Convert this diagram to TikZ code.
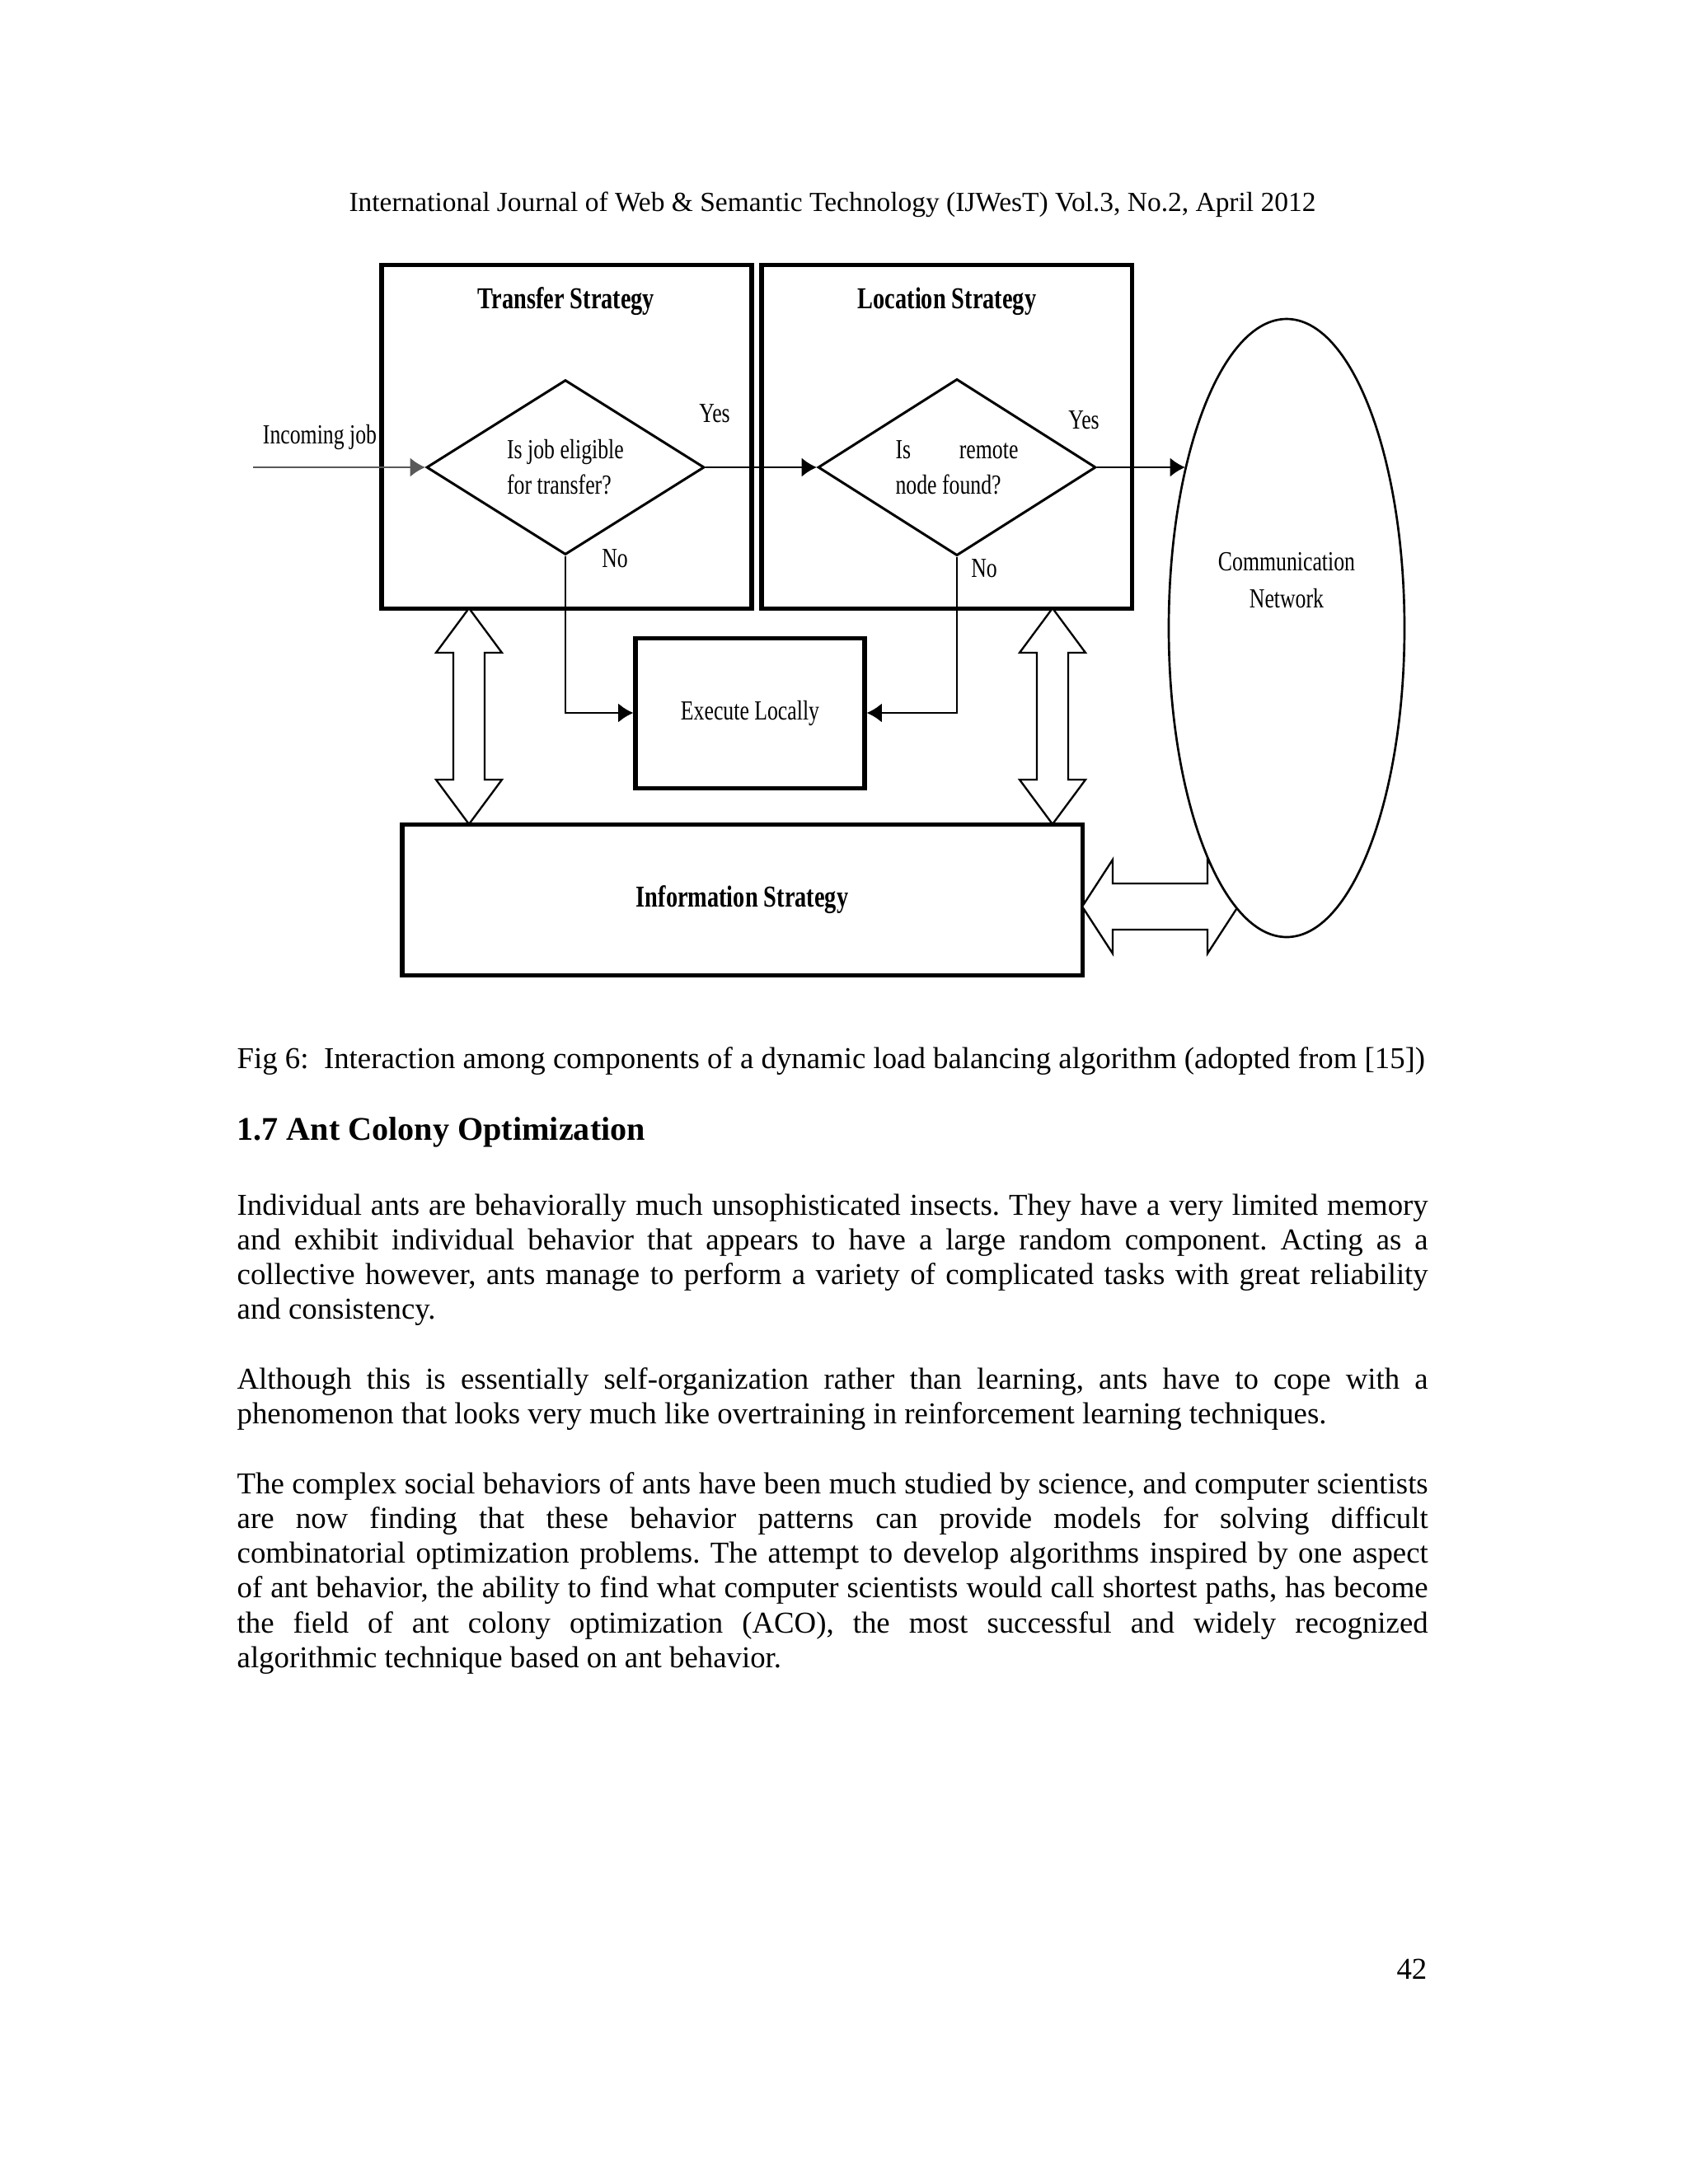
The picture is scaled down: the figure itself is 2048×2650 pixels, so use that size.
\documentclass[tikz,border=0pt]{standalone}
\usepackage{fontspec}
\setmainfont{Liberation Serif}
\newfontfamily\condensed[FakeStretch=0.77]{Liberation Serif}
\usetikzlibrary{shapes.geometric, arrows.meta, calc}
\setlength{\parindent}{0pt}
\frenchspacing
\hyphenpenalty=10000
\exhyphenpenalty=10000
\tolerance=10000

% one pixel of the page
\newcommand{\pxl}{0.29883pt}

% hollow double arrows between the blocks
\newcommand{\blockarrowv}[2]{%
  \draw[blockline] (#1) -- ($(#1)+(40,54)$) -- ($(#1)+(19,54)$) -- ($(#2)+(19,-54)$)
    -- ($(#2)+(40,-54)$) -- (#2) -- ($(#2)+(-40,-54)$) -- ($(#2)+(-19,-54)$)
    -- ($(#1)+(-19,54)$) -- ($(#1)+(-40,54)$) -- cycle;}
\newcommand{\blockarrowh}[2]{%
  \draw[blockline] (#1) -- ($(#1)+(37,-57)$) -- ($(#1)+(37,-28)$) -- ($(#2)+(-37,-28)$)
    -- ($(#2)+(-37,-57)$) -- (#2) -- ($(#2)+(-37,57)$) -- ($(#2)+(-37,28)$)
    -- ($(#1)+(37,28)$) -- ($(#1)+(37,57)$) -- cycle;}

\tikzset{
  stratbox/.style={draw, line width=1.5pt, inner sep=0pt},
  decision/.style={diamond, draw, line width=0.9pt, inner sep=0pt, align=left,
    minimum width=337*\pxl, minimum height=212*\pxl,
    font=\condensed\fontsize{10}{12.85}\selectfont},
  boxtitle/.style={font=\condensed\bfseries\fontsize{11}{13}\selectfont},
  lbl/.style={font=\condensed\fontsize{10}{13.7}\selectfont},
  flow/.style={line width=0.8pt, -{Latex[length=5.5pt, width=7pt]}},
  blockline/.style={line width=0.7pt, fill=white},
  para/.style={anchor=base west, inner sep=0pt, text width=431.8pt, align=justify,
    font=\fontsize{11}{12.63}\selectfont},
}

\begin{document}
\begin{tikzpicture}[x=0.29883pt, y=-0.29883pt]
  \useasboundingbox (0,0) rectangle (2048,2650);
  \node[anchor=base, inner sep=0pt, font=\fontsize{10}{12}\selectfont] (head) at (1010,256)
    {International Journal of Web \& Semantic Technology (IJWesT) Vol.3, No.2, April 2012};

  % strategy blocks
  \node[stratbox, minimum width=449*\pxl, minimum height=417*\pxl] (ts) at (687.5,529.5) {};
  \node[stratbox, minimum width=449*\pxl, minimum height=417*\pxl] (ls) at (1148.5,529.5) {};
  \node[boxtitle] (tstitle) at (687,366) {Transfer Strategy};
  \node[boxtitle] (lstitle) at (1149,366) {Location Strategy};
  \node[decision] (elig) at (686,567) {Is job eligible\\for transfer?};
  \node[decision] (remote) at (1161,567) {\makebox[44.5pt][s]{Is\hfill remote}\\node found?};
  \node[stratbox, minimum width=278*\pxl, minimum height=182*\pxl, lbl] (exec) at (910,865) {Execute Locally};
  \node[stratbox, minimum width=825*\pxl, minimum height=183*\pxl, boxtitle] (info) at (900.5,1091.5) {Information Strategy};

  \node[lbl] (yes1) at (867,502) {Yes};
  \node[lbl] (yes2) at (1315,510) {Yes};
  \node[lbl] (no1) at (746,678) {No};
  \node[lbl] (no2) at (1194,690) {No};
  \node[lbl] (injob) at (388,530) {Incoming job};

  % block arrows
  \coordinate (tsin) at (569,738);
  \coordinate (infots) at (569,1000);
  \coordinate (lsin) at (1277,738);
  \coordinate (infols) at (1277,1000);
  \coordinate (infonet) at (1313,1100);
  \coordinate (netinfo) at (1502,1100);
  \blockarrowv{tsin}{infots}
  \blockarrowv{lsin}{infols}
  \blockarrowh{infonet}{netinfo}

  \node[ellipse, draw, fill=white, line width=0.8pt, inner sep=0pt,
    minimum width=286*\pxl, minimum height=750*\pxl] (net) at (1561,762) {};
  \node[lbl, align=center] (nettext) at (1561,704) {Communication\\Network};

  % job flow
  \coordinate (in) at (307,567);
  \draw[flow, black!65] (in) -- (elig.west);
  \draw[flow] (elig.east) -- (remote.west);
  \draw[flow] (remote.east) -- (remote.east -| net.122);
  \draw[flow] (elig.south) |- (exec.west);
  \draw[flow] (remote.south) |- (exec.east);

  % page text
  \node[anchor=base west, inner sep=0pt, font=\fontsize{11}{13}\selectfont] (cap) at (287,1296)
    {Fig 6:\ \ Interaction among components of a dynamic load balancing algorithm (adopted from [15])};
  \node[anchor=base west, inner sep=0pt, font=\bfseries\fontsize{12}{14}\selectfont] (sec) at (287,1383)
    {1.7 Ant Colony Optimization};
  \node[para] (p1) at (287,1474)
    {Individual ants are behaviorally much unsophisticated insects. They have a very limited memory\linebreak
     and exhibit individual behavior that appears to have a large random component. Acting as a\linebreak
     collective however, ants manage to perform a variety of complicated tasks with great reliability\linebreak
     and consistency.};
  \node[para] (p2) at (287,1685)
    {Although this is essentially self-organization rather than learning, ants have to cope with a\linebreak
     phenomenon that looks very much like overtraining in reinforcement learning techniques.};
  \node[para] (p3) at (287,1812)
    {The complex social behaviors of ants have been much studied by science, and computer scientists\linebreak
     are now finding that these behavior patterns can provide models for solving difficult\linebreak
     combinatorial optimization problems. The attempt to develop algorithms inspired by one aspect\linebreak
     of ant behavior, the ability to find what computer scientists would call shortest paths, has become\linebreak
     the field of ant colony optimization (ACO), the most successful and widely recognized\linebreak
     algorithmic technique based on ant behavior.};
  \node[anchor=base east, inner sep=0pt, font=\fontsize{11}{13}\selectfont] (pg) at (1732,2401) {42};
\end{tikzpicture}
\end{document}
